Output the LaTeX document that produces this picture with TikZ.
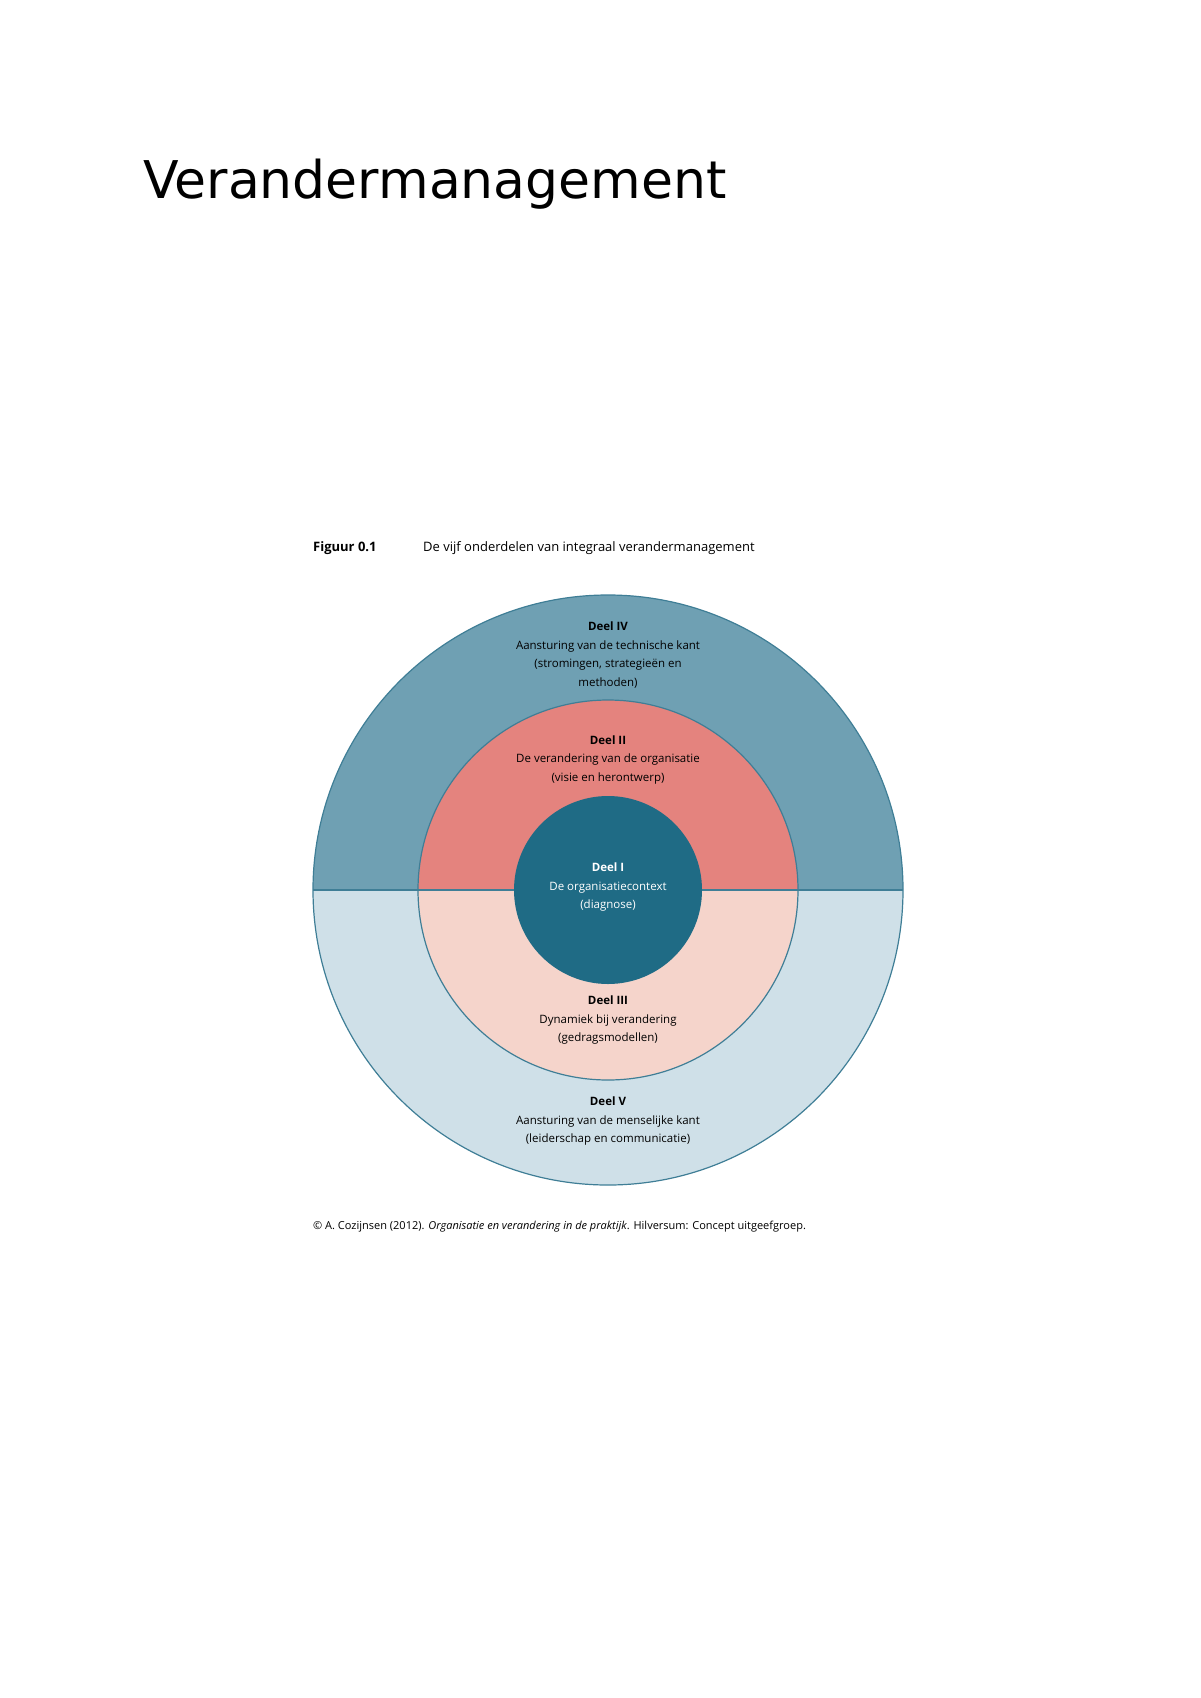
\documentclass[tikz,border=0pt]{standalone}
\usepackage{fontspec}
\usetikzlibrary{calc}
\setmainfont{Open Sans}
\newfontfamily\titlefont{DejaVu Sans}
\definecolor{outerT}{HTML}{6FA0B3}
\definecolor{outerB}{HTML}{CFE0E8}
\definecolor{midT}{HTML}{E4837E}
\definecolor{midB}{HTML}{F5D4CB}
\definecolor{inner}{HTML}{1F6B85}
\definecolor{edge}{HTML}{3F7E96}
\tikzset{lbl/.style={align=center,font=\fontsize{11.5}{18.5}\selectfont},
 edgeln/.style={draw=edge,line width=1.2pt}}
\begin{document}
\begin{tikzpicture}[x=1pt,y=-1pt]
\useasboundingbox (0,0) rectangle (1200,1698);
\node[anchor=base west,font=\titlefont\fontsize{52}{60}\selectfont,inner sep=0] (title) at (143,198) {Verandermanagement};
\node[anchor=base west,inner sep=0,font=\fontsize{13}{15}\selectfont\bfseries] (fig) at (313,551) {Figuur 0.1};
\node[anchor=base west,inner sep=0,font=\fontsize{13}{15}\selectfont] (figt) at (423,551) {De vijf onderdelen van integraal verandermanagement};
\coordinate (c) at (608,890);
\fill[outerT] (c) ++(-295,0) arc[start angle=180,end angle=0,x radius=295,y radius=-295] -- cycle;
\fill[outerB] (c) ++(295,0) arc[start angle=0,end angle=-180,x radius=295,y radius=-295] -- cycle;
\fill[midT] (c) ++(-190,0) arc[start angle=180,end angle=0,x radius=190,y radius=-190] -- cycle;
\fill[midB] (c) ++(190,0) arc[start angle=0,end angle=-180,x radius=190,y radius=-190] -- cycle;
\draw[edgeln] (c) circle[radius=295];
\draw[edgeln] (c) circle[radius=190];
\draw[edgeln] ($(c)+(-295,0)$) -- ($(c)+(295,0)$);
\fill[inner] (c) circle[radius=94];
\node[lbl] (d4) at (608,655) {\textbf{Deel IV}\\Aansturing van de technische kant\\(stromingen, strategieën en\\methoden)};
\node[lbl] (d2) at (608,760) {\textbf{Deel II}\\De verandering van de organisatie\\(visie en herontwerp)};
\node[lbl,text=white] (d1) at (608,887) {\textbf{Deel I}\\De organisatiecontext\\(diagnose)};
\node[lbl] (d3) at (608,1020) {\textbf{Deel III}\\Dynamiek bij verandering\\(gedragsmodellen)};
\node[lbl] (d5) at (608,1121) {\textbf{Deel V}\\Aansturing van de menselijke kant\\(leiderschap en communicatie)};
\node[anchor=base west,inner sep=0,font=\fontsize{11}{13}\selectfont] (copy) at (313,1229) {© A. Cozijnsen (2012). \textit{Organisatie en verandering in de praktijk}. Hilversum: Concept uitgeefgroep.};
\end{tikzpicture}
\end{document}
